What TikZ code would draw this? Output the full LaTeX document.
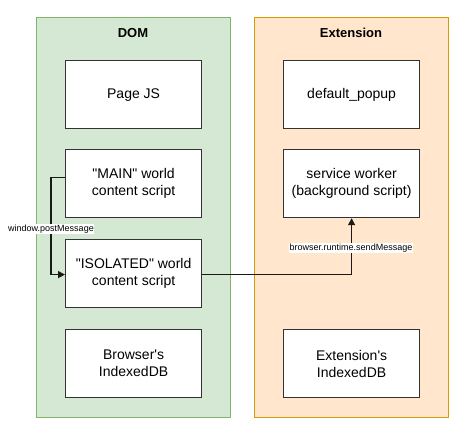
\documentclass[tikz,border=0pt]{standalone}
\usepackage{fontspec}
\setmainfont{Liberation Sans}
\usetikzlibrary{arrows.meta}
\definecolor{domfill}{HTML}{D5E8D4}
\definecolor{domline}{HTML}{82B366}
\definecolor{extfill}{HTML}{FFE6CC}
\definecolor{extline}{HTML}{D79B00}
\definecolor{boxline}{HTML}{333333}
\tikzset{
  x=1pt, y=-1pt,
  container/.style={draw, line width=1pt, minimum width=194pt, minimum height=400pt, anchor=north west, inner sep=0pt},
  title/.style={font=\bfseries\fontsize{13}{15}\selectfont, text=black},
  box/.style={draw=boxline, fill=white, line width=1.2pt, minimum width=136pt, minimum height=68pt, anchor=north west, align=center, font=\fontsize{14}{17}\selectfont, inner sep=0pt},
  conn/.style={draw=black!90, line width=1.2pt, -{Triangle[length=7pt,width=7pt]}},
  lbl/.style={fill=white, inner sep=0.6pt, font=\fontsize{9}{10}\selectfont}
}
\begin{document}
\begin{tikzpicture}
\useasboundingbox (0,0) rectangle (474,434);
\node[container, draw=domline, fill=domfill] (dom) at (36,17) {};
\node[container, draw=extline, fill=extfill] (ext) at (254,17) {};
\node[title] (domt) at (133,33) {DOM};
\node[title] (extt) at (351,33) {Extension};
\node[box] (page) at (65,60) {Page JS};
\node[box] (main) at (65,149) {\textquotedbl MAIN\textquotedbl{} world\\content script};
\node[box] (iso) at (65,239) {\textquotedbl ISOLATED\textquotedbl{} world\\content script};
\node[box] (bdb) at (65,329) {Browser\textquotesingle s\\IndexedDB};
\node[box] (popup) at (283,60) {default\_popup};
\node[box] (sw) at (283,149) {service worker\\(background script)};
\node[box] (edb) at (283,329) {Extension\textquotesingle s\\IndexedDB};
\coordinate (c1) at (51,0);
\draw[conn] ([yshift=6pt]main.west) -| (c1 |- main.west) |- ([yshift=-1pt]iso.west);
\node[lbl] (l1) at (51,229) {window.postMessage};
\draw[conn] ([yshift=-1pt]iso.east) -| (sw.south);
\node[lbl] (l2) at (351,248) {browser.runtime.sendMessage};
\end{tikzpicture}
\end{document}
